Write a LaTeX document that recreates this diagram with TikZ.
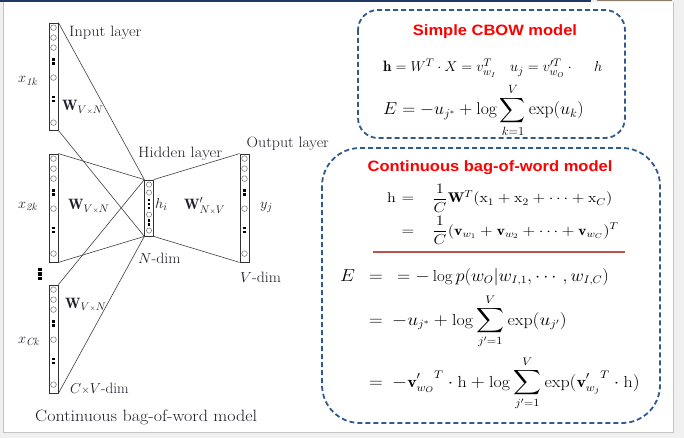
\documentclass[tikz,border=0pt]{standalone}
\usepackage{fontspec}
\usepackage{amsmath}
\usepackage{graphicx}
\newfontfamily\titlefont{Liberation Sans}
\definecolor{dashblue}{HTML}{2F5A8E}
\definecolor{titlered}{HTML}{FF0000}
\definecolor{redrulec}{HTML}{C0504D}
\definecolor{txt}{HTML}{1E1E28}
\definecolor{framegray}{HTML}{C4C4C4}
\definecolor{pagebg}{HTML}{F0F0F0}
\definecolor{topbar}{HTML}{1F3864}
\definecolor{imgstrip}{HTML}{8A7D6A}
\definecolor{circgray}{HTML}{707070}
\newcommand{\hs}[2]{\scalebox{#1}[1]{#2}}
\tikzset{
  layerbox/.style={draw=black!80, line width=0.8pt, minimum width=9pt, inner sep=0pt, fill=white},
  conn/.style={draw=black!75, line width=0.6pt},
  unitcirc/.style={draw=circgray, line width=0.5pt},
  lbl/.style={anchor=base west, inner sep=0pt, text=txt, font=\fontsize{15}{18}\selectfont},
  dashbox/.style={draw=dashblue, line width=1.8pt, dash pattern=on 5pt off 3pt, inner sep=0pt},
  boxtitle/.style={anchor=base, inner sep=0pt, text=titlered, font=\titlefont\bfseries\fontsize{15}{18}\selectfont},
  eqA/.style={anchor=base west, inner sep=0pt, text=black, font=\fontsize{15}{18}\selectfont},
  eqAA/.style={anchor=base west, inner sep=0pt, text=black, font=\fontsize{17}{20}\selectfont},
  eqF/.style={anchor=base west, inner sep=0pt, text=black, font=\fontsize{14}{17}\selectfont},
  eqB/.style={anchor=base west, inner sep=0pt, text=black, font=\fontsize{16}{19}\selectfont},
  eqBeq/.style={eqB, anchor=base},
}
\newcommand{\tallpattern}[1]{%
  \foreach \o in {5,15,25,55,100} \draw[unitcirc] ($(#1.north)+(0,\o)$) circle (2.8pt);
  \foreach \o in {37,41,74.5,78.5} \fill[black] ($(#1.north)+(-1.3,\o-1.3)$) rectangle +(2.6,2.6);
}
\usetikzlibrary{calc}
\begin{document}
\begin{tikzpicture}[x=1pt,y=-1pt]
\useasboundingbox (0,0) rectangle (684,438);
% frame
\fill[pagebg] (0,0) rectangle (684,438);
\fill[white] (3,2.5) rectangle (673,432);
\draw[framegray, line width=1pt] (3,2.5) -- (3,432) -- (673,432) -- (673,2.5);
\fill[topbar] (0,0) rectangle (591,2.5);
\fill[imgstrip] (597,0) rectangle (672,1.5);

% layers
\node[layerbox, minimum height=107pt] (in1) at (53.5,76.5) {};
\node[layerbox, minimum height=108pt] (in2) at (53.5,208) {};
\node[layerbox, minimum height=108pt] (in3) at (53.5,339) {};
\node[layerbox, minimum width=8.5pt, minimum height=56pt] (hid) at (149,208) {};
\node[layerbox, minimum height=108pt] (out) at (244.5,208) {};

% connectors
\draw[conn] (in1.north east) -- (hid.north west);
\draw[conn] (in1.south east) -- (hid.south west);
\draw[conn] (in2.north east) -- (hid.north west);
\draw[conn] (in2.south east) -- (hid.south west);
\draw[conn] (in3.north east) -- (hid.north west);
\draw[conn] (in3.south east) -- (hid.south west);
\draw[conn] (hid.north east) -- (out.north west);
\draw[conn] (hid.south east) -- (out.south west);

% units
\tallpattern{in1}
\tallpattern{in2}
\tallpattern{in3}
\tallpattern{out}
\foreach \o in {5,13,35,51} \draw[unitcirc] ($(hid.north)+(0,\o)$) circle (2.6pt);
\foreach \o in {20.5,24.5,28.5,41,45} \fill[black] ($(hid.north)+(-1.3,\o-1.3)$) rectangle +(2.6,2.6);
% dots between input groups
\foreach \o in {269.5,274,278.5} \fill[black] (38.2,\o-1.7) rectangle +(3.4,3.4);

% labels
\node[lbl] (tin) at (69,37) {\hs{1.09}{Input layer}};
\node[lbl] (thid) at (138,158) {\hs{1.1}{Hidden layer}};
\node[lbl] (tout) at (246.5,148) {\hs{1.06}{Output layer}};
\node[lbl] (x1) at (18,83) {$x_{\mathit{1k}}$};
\node[lbl] (x2) at (18,208) {$x_{\mathit{2k}}$};
\node[lbl] (xc) at (18,343) {$x_{\mathit{Ck}}$};
\node[lbl] (w1) at (62,111) {$\mathbf{W}_{V{\scriptscriptstyle\times}N}$};
\node[lbl] (w2) at (68,210) {$\mathbf{W}_{V{\scriptscriptstyle\times}N}$};
\node[lbl] (w3) at (65,308) {$\mathbf{W}_{V{\scriptscriptstyle\times}N}$};
\node[lbl] (hi) at (155,208) {$h_i$};
\node[lbl] (wp) at (184,209) {$\mathbf{W}'_{N{\scriptscriptstyle\times}V}$};
\node[lbl] (yj) at (260,208) {$y_j$};
\node[lbl] (nd) at (138,263) {\hs{1.05}{$N$-dim}};
\node[lbl] (vd) at (240,282) {\hs{1.05}{$V$-dim}};
\node[lbl] (cvd) at (70,393) {$C{\scriptstyle\times}V$-dim};
\node[lbl, font=\fontsize{16.4}{19}\selectfont] (cap) at (35,421) {\hs{1.1}{Continuous bag-of-word model}};

% right boxes
\draw[dashbox, rounded corners=20pt] (358,10) rectangle (625,138);
\draw[dashbox, rounded corners=38pt] (322,148) rectangle (660,423);
\node[boxtitle] (titA) at (495,35.5) {\hs{1.1}{Simple CBOW model}};
\node[boxtitle] (titB) at (490,172) {\hs{1.1}{Continuous bag-of-word model}};

% box A equations
\node[eqA] (a1) at (383,72) {$\mathbf{h}=W^T\cdot X=v^T_{w_I}$};
\node[eqA] (a2) at (510,72) {$u_j=v'^T_{w_O}\cdot\hspace{19pt}h$};
\node[eqAA] (a3) at (383,115) {\hs{1.04}{$\displaystyle E=-u_{j^*}+\log\sum_{k=1}^{V}\exp(u_k)$}};

% box B equations
\node[eqF] (b1l) at (387,203) {\hs{1.15}{$\mathrm{h}$}};
\node[eqF, anchor=base] (b1e) at (408,203) {\hs{1.15}{$=$}};
\node[eqF] (b1r) at (432,203) {\hs{1.15}{$\displaystyle\frac{1}{C}\mathbf{W}^T(\mathrm{x}_1+\mathrm{x}_2+\cdots+\mathrm{x}_C)$}};
\node[eqF, anchor=base] (b2e) at (408,235) {\hs{1.15}{$=$}};
\node[eqF] (b2r) at (432,235) {\hs{1.15}{$\displaystyle\frac{1}{C}(\mathbf{v}_{w_1}+\mathbf{v}_{w_2}+\cdots+\mathbf{v}_{w_C})^T$}};
\draw[redrulec, line width=2pt] (373,252) -- (625,252);
\node[eqB] (b3l) at (340,281) {\hs{1.1}{$E$}};
\node[eqBeq] (b3e) at (376,281) {\hs{1.1}{$=$}};
\node[eqB] (b3r) at (397,281) {\hs{1.06}{$=-\log p(w_O|w_{I,1},\cdots,w_{I,C})$}};
\node[eqBeq] (b4e) at (376,325) {\hs{1.1}{$=$}};
\node[eqB] (b4r) at (392,325) {\hs{1.12}{$\displaystyle -u_{j^*}+\log\sum_{j'=1}^{V}\exp(u_{j'})$}};
\node[eqBeq] (b5e) at (376,387) {\hs{1.1}{$=$}};
\node[eqB] (b5r) at (392,387) {\hs{1.12}{$\displaystyle -{\mathbf{v}'_{w_O}}^T\cdot\mathrm{h}+\log\sum_{j'=1}^{V}\exp({\mathbf{v}'_{w_j}}^T\cdot\mathrm{h})$}};
\end{tikzpicture}
\end{document}
